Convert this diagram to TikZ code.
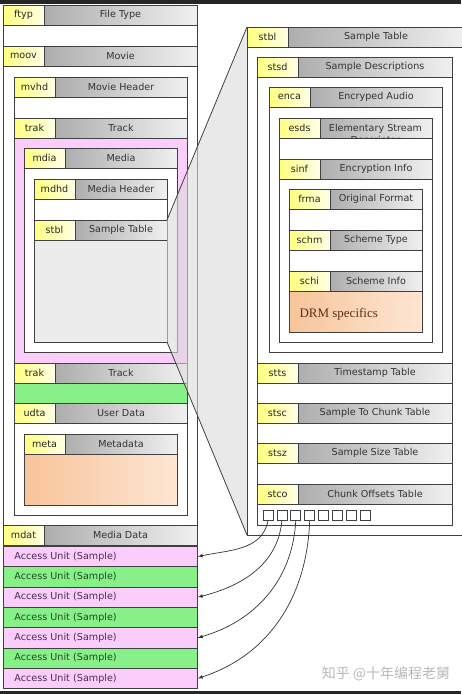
\documentclass[tikz,border=0pt]{standalone}
\usepackage{fontspec}
\setmainfont{DejaVu Sans}
\newfontfamily\drmfont{Liberation Serif}
\newfontfamily\cjkfont{Noto Sans CJK SC}

\definecolor{pinkbox}{HTML}{FACDFA}
\definecolor{greenbox}{HTML}{88F088}
\definecolor{tablegray}{HTML}{ECECEC}
\definecolor{orangeL}{HTML}{F8C49A}
\definecolor{orangeR}{HTML}{FDE6D3}
\definecolor{linegray}{HTML}{404040}
\definecolor{aupurple}{HTML}{4A2A5A}
\definecolor{augreen}{HTML}{1F4A1F}
\definecolor{drmbrown}{HTML}{5C2E14}

% header strip of a box: #1 name, #2 left x, #3 right x, #4 top y, #5 tag, #6 title
\newcommand{\boxhead}[6]{%
  \shadedraw[tagfill] (#2,#4) rectangle ++(41,20.5);
  \shadedraw[titlefill] (#2+41,#4) rectangle (#3,#4+20.5);
  \node[tagtext] (#1-tag) at (#2+20.5,#4+10.25) {#5};
  \node[titletext] (#1-title) at ({(#2+41+#3)/2},#4+10.25) {#6};
}

\begin{document}
\begin{tikzpicture}[x=1pt,y=-1pt,>=latex,
  boxline/.style={draw=linegray,line width=.8pt},
  tagfill/.style={boxline,left color=yellow!50,right color=yellow!10},
  titlefill/.style={boxline,left color=black!32,right color=black!6},
  tagtext/.style={text=black!85,font=\fontsize{9.6}{11.5}\selectfont},
  titletext/.style={text=black!80,font=\fontsize{9.6}{11.5}\selectfont},
  aurow/.style={boxline,anchor=north west,minimum height=20.3pt,inner xsep=11pt,
    text width=172pt,align=left,font=\fontsize{9.6}{11.5}\selectfont},
  sqbox/.style={draw=linegray,line width=.8pt,minimum size=10pt,inner sep=0pt},
  zoomfill/.style={fill=black!14,opacity=.6},
  link/.style={->,draw=black!80,line width=.7pt}]
\useasboundingbox (0,0) rectangle (461,694);

% left column
\draw[boxline,fill=white] (3,5) rectangle (197,688);
\boxhead{ftyp}{3}{197}{5}{ftyp}{File Type}
\boxhead{moov}{3}{197}{46}{moov}{Movie}
\draw[boxline,fill=white] (14,77) rectangle (187,118);
\boxhead{mvhd}{14}{187}{77}{mvhd}{Movie Header}
\draw[boxline,fill=pinkbox] (14,118) rectangle (187,363);
\boxhead{trakA}{14}{187}{118}{trak}{Track}
\draw[boxline,fill=white] (24,148) rectangle (177,352);
\boxhead{mdia}{24}{177}{148}{mdia}{Media}
\draw[boxline,fill=white] (34,179) rectangle (167,220);
\boxhead{mdhd}{34}{167}{179}{mdhd}{Media Header}
\draw[boxline,fill=tablegray] (34,220) rectangle (167,342);
\boxhead{stblL}{34}{167}{220}{stbl}{Sample Table}
\draw[boxline,fill=greenbox] (14,363) rectangle (187,403);
\boxhead{trakB}{14}{187}{363}{trak}{Track}
\draw[boxline,fill=white] (14,403) rectangle (187,515);
\boxhead{udta}{14}{187}{403}{udta}{User Data}
\shadedraw[boxline,left color=orangeL,right color=orangeR] (24,434) rectangle (177,505);
\boxhead{meta}{24}{177}{434}{meta}{Metadata}
\boxhead{mdat}{3}{197}{525}{mdat}{Media Data}

\foreach \i/\c/\t in {1/pinkbox/aupurple,2/greenbox/augreen,3/pinkbox/aupurple,
  4/greenbox/augreen,5/pinkbox/aupurple,6/greenbox/augreen,7/pinkbox/aupurple}
{
   \node[aurow,fill=\c,text=\t] (au\i) at (3,{546+20.3*(\i-1)}) {Access Unit (Sample)};
}

% zoom from the small stbl to the big one
\coordinate (ltop) at (167,220);
\coordinate (lbot) at (167,342);
\coordinate (rtop) at (247,27);
\coordinate (rbot) at (247,535);
\fill[zoomfill] (ltop) -- (rtop) -- (rbot) -- (lbot) -- cycle;
\draw[boxline] (ltop) -- (rtop);
\draw[boxline] (lbot) -- (rbot);

% right column
\draw[boxline,fill=white] (247,27) rectangle (464,535);
\boxhead{stblR}{247}{464}{27}{stbl}{Sample Table}
\draw[boxline,fill=white] (257,57) rectangle (452,363);
\boxhead{stsd}{257}{452}{57}{stsd}{Sample Descriptions}
\draw[boxline,fill=white] (269,87) rectangle (442,352);
\boxhead{enca}{269}{442}{87}{enca}{Encryped Audio}
\draw[boxline,fill=white] (279,118) rectangle (432,159);
\boxhead{esds}{279}{432}{118}{esds}{}
\begin{scope}
\clip (320,118) rectangle (432,138.5);
\node[titletext,align=center] (esds-text) at (375.5,135) {Elementary Stream\\Descriptor};
\end{scope}
\draw[boxline,fill=white] (279,159) rectangle (432,342);
\boxhead{sinf}{279}{432}{159}{sinf}{Encryption Info}
\draw[boxline,fill=white] (289,189) rectangle (422,230);
\boxhead{frma}{289}{422}{189}{frma}{Original Format}
\draw[boxline,fill=white] (289,230) rectangle (422,271);
\boxhead{schm}{289}{422}{230}{schm}{Scheme Type}
\shadedraw[boxline,left color=orangeL,right color=orangeR] (289,271) rectangle (422,332);
\boxhead{schi}{289}{422}{271}{schi}{Scheme Info}
\node[anchor=west,text=drmbrown,font=\drmfont\fontsize{13}{15}\selectfont] (drm) at (296,314) {DRM specifics};

\draw[boxline,fill=white] (257,363) rectangle (452,525);
\boxhead{stts}{257}{452}{363}{stts}{Timestamp Table}
\boxhead{stsc}{257}{452}{403}{stsc}{Sample To Chunk Table}
\boxhead{stsz}{257}{452}{443}{stsz}{Sample Size Table}
\boxhead{stco}{257}{452}{484}{stco}{Chunk Offsets Table}
\foreach \i in {1,...,8}
{
   \node[sqbox] (sq\i) at ({268+13.9*(\i-1)},515) {};
}

% chunk offsets point into mdat
\draw[link] (sq1.south) to[out=-100,in=12] (au1.east);
\draw[link] (sq2.south) to[out=-95,in=14] (au3.east);
\draw[link] (sq3.south) to[out=-93,in=16] (au5.east);
\draw[link] (sq4.south) to[out=-92,in=18] (au7.east);

\node[text=black!28,font=\cjkfont\fontsize{14}{16}\selectfont] (mark) at (386,674) {知乎 @十年编程老舅};

\fill[black!85] (0,0) rectangle (461,3.5);
\fill[black!85] (0,690.5) rectangle (461,694);
\end{tikzpicture}
\end{document}
